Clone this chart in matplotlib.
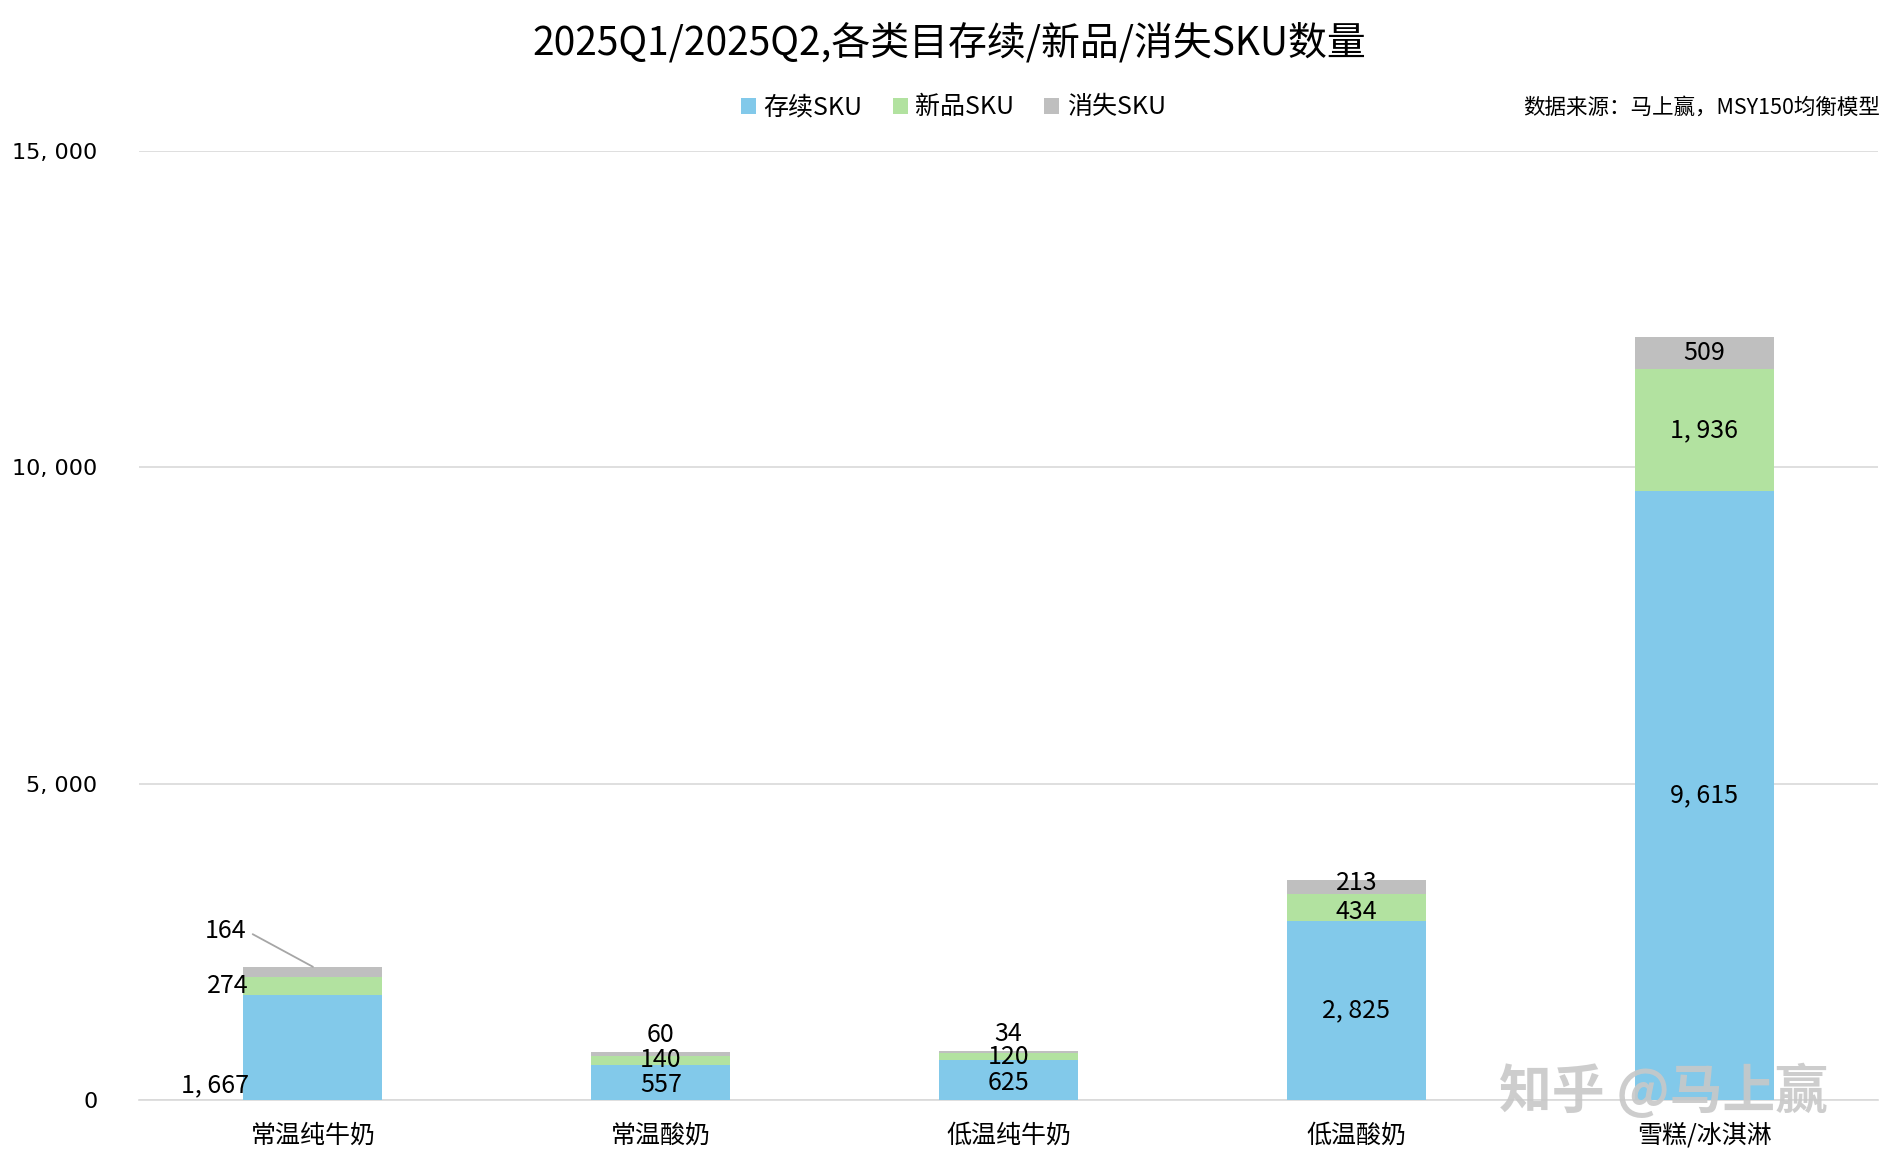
import matplotlib
matplotlib.use("Agg")
import matplotlib.pyplot as plt
import numpy as np

categories = ["常温纯牛奶", "常温酸奶", "低温纯牛奶", "低温酸奶", "雪糕/冰淇淋"]
cont_sku = [1667, 557, 625, 2825, 9615]
new_sku = [274, 140, 120, 434, 1936]
lost_sku = [164, 60, 34, 213, 509]
series_names = ["存续SKU", "新品SKU", "消失SKU"]
yticks = [0, 5000, 10000, 15000]

colors = ["#82C9EA", "#B2E2A0", "#BFBFBF"]
FAM = ["Liberation Sans Narrow", "Noto Sans CJK SC", "DejaVu Sans"]
plt.rcParams["font.family"] = FAM

fig = plt.figure(figsize=(18.99, 11.68), dpi=100)
ax = fig.add_axes([0.0732, 0.0582, 0.9158, 0.8128])

x = np.arange(len(categories))
w = 0.4
data = [np.array(cont_sku), np.array(new_sku), np.array(lost_sku)]
bottom = np.zeros(len(categories))
bars = []
for vals, c, name in zip(data, colors, series_names):
    ax.bar(x, vals, w, bottom=bottom, color=c, label=name, zorder=3)
    bars.append((vals, bottom.copy()))
    bottom = bottom + vals

ax.set_xlim(-0.5, len(categories) - 0.5)
ax.set_ylim(0, 15000)
ax.set_yticks(yticks)
ax.set_yticklabels([f"{v:,}".replace(",", ", ") for v in yticks],
                   fontsize=16, family=["DejaVu Sans"])
ax.yaxis.grid(True, color="#D9D9D9", linewidth=1.2, zorder=0)
ax.set_xticks(x)
ax.set_xticklabels(categories, fontsize=18, family=["Noto Sans CJK SC"])
ax.tick_params(axis="both", length=0)
ax.tick_params(axis="y", pad=30)
ax.tick_params(axis="x", pad=16)
for s in ["left", "right", "top"]:
    ax.spines[s].set_visible(False)
ax.spines["bottom"].set_color("#D9D9D9")
ax.spines["bottom"].set_linewidth(1.2)

def fmt(v):
    return f"{v:,}".replace(",", ", ")

lab_fs = 18
totals = bottom
for i in range(len(categories)):
    small_top = new_sku[i] < 600 and lost_sku[i] < 600
    for s, (vals, bot) in enumerate(bars):
        v = vals[i]
        yc = bot[i] + v / 2
        if i == 0:
            if s == 0:
                ax.annotate(fmt(v), (x[i] - w / 2, 0), xytext=(4, 1),
                            textcoords="offset points", ha="right", va="bottom",
                            fontsize=lab_fs)
            elif s == 1:
                ax.annotate(fmt(v), (x[i] - w / 2, yc), xytext=(4, 0),
                            textcoords="offset points", ha="right", va="center",
                            fontsize=lab_fs)
            else:
                ax.annotate(fmt(v), (x[i], totals[i]), xytext=(-48, 26),
                            textcoords="offset points", ha="right", va="center",
                            fontsize=lab_fs,
                            arrowprops=dict(arrowstyle="-", color="#A6A6A6",
                                            lw=1.3, shrinkA=3, shrinkB=0,
                                            relpos=(1, 0.5)))
        elif s == 2 and v < 100:
            ax.annotate(fmt(v), (x[i], totals[i]), xytext=(0, 3),
                        textcoords="offset points", ha="center", va="bottom",
                        fontsize=lab_fs)
        else:
            dy = 0
            if small_top and s == 2:
                dy = 3
            elif small_top and s == 1 and lost_sku[i] >= 100:
                dy = -3
            elif small_top and s == 0 and cont_sku[i] < 1000:
                dy = -2
            ax.annotate(fmt(v), (x[i], yc), xytext=(0, dy),
                        textcoords="offset points", ha="center", va="center",
                        fontsize=lab_fs, zorder=5)

fig.text(0.5, 0.962, "2025Q1/2025Q2,各类目存续/新品/消失SKU数量", ha="center",
         va="center", fontsize=28)
fig.legend(loc="center", bbox_to_anchor=(0.502, 0.908), ncol=3, frameon=False,
           fontsize=18, handlelength=0.6, handleheight=0.6, handletextpad=0.3,
           columnspacing=1.2)
fig.text(0.99, 0.908, "数据来源：马上赢，MSY150均衡模型", ha="right", va="center",
         fontsize=15.5, family=["Noto Sans CJK SC", "DejaVu Sans"])
fig.text(0.876, 0.066, "知乎 @马上赢", ha="center", va="center", fontsize=38,
         color="#C8C8C8", alpha=0.9, family=["Noto Sans CJK SC"], fontweight="bold",
         zorder=10)

fig.savefig("out.png", dpi=100, facecolor="white")
